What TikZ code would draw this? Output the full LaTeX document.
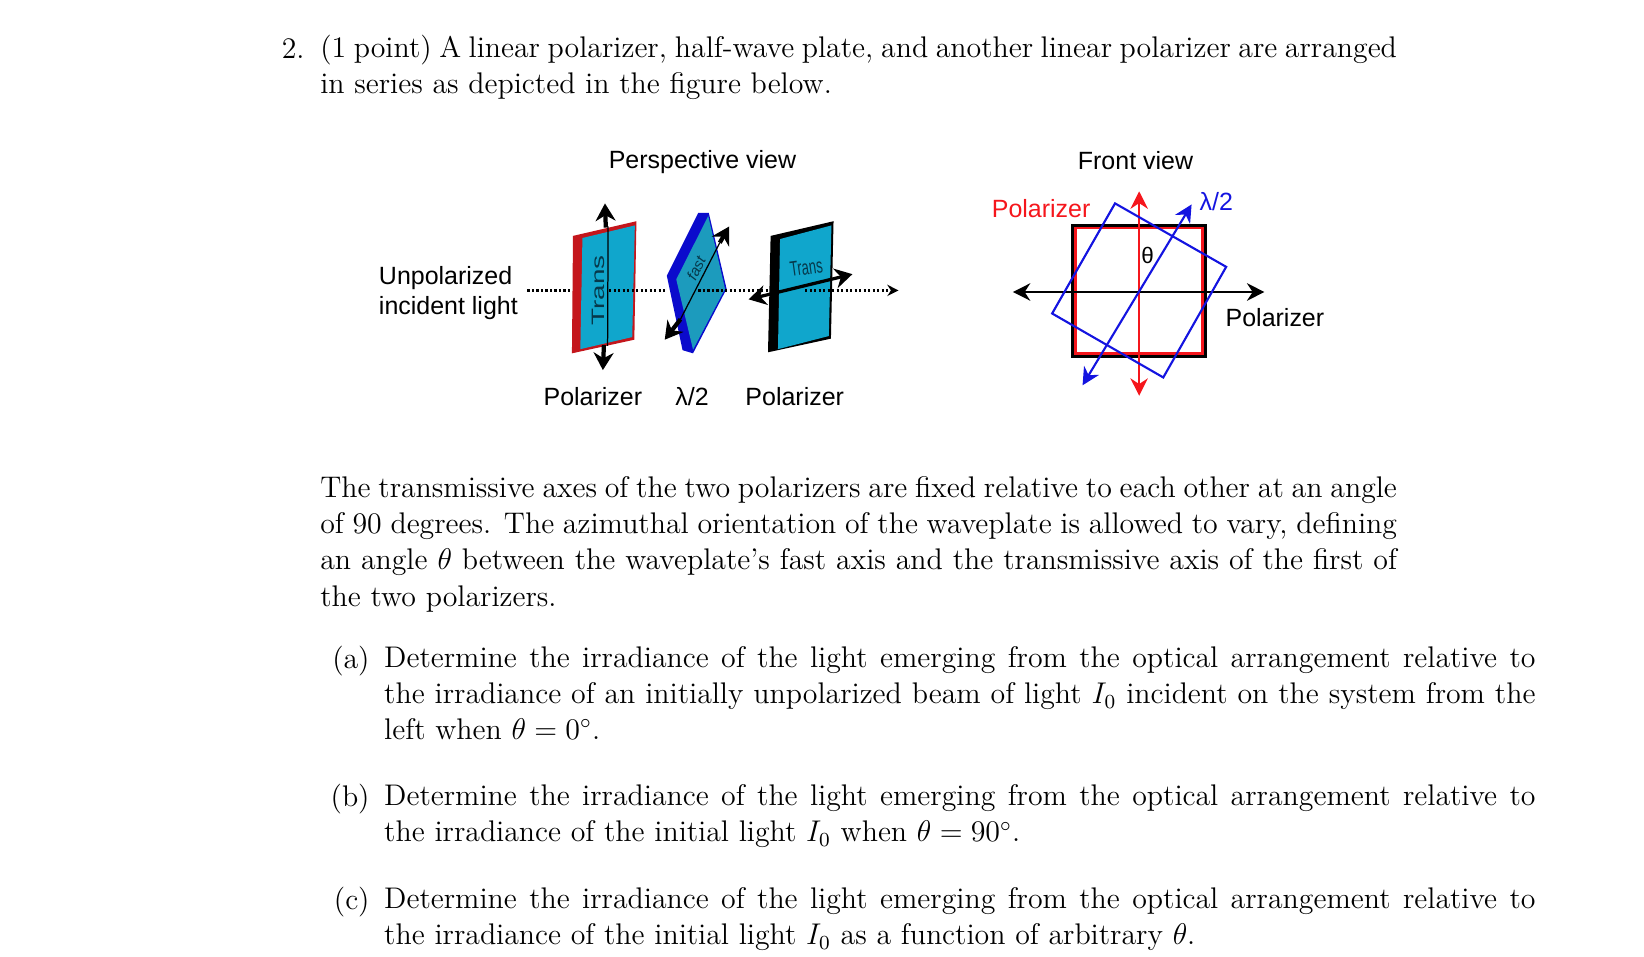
\documentclass[tikz,border=0pt]{standalone}
\usepackage{fontspec}
\usetikzlibrary{arrows.meta}
\newfontfamily\arialfont{Liberation Sans}
\definecolor{plateteal}{HTML}{10A6CC}
\definecolor{fastteal}{HTML}{1C9BBD}
\definecolor{inkteal}{HTML}{06384A}
\definecolor{rimred}{HTML}{C4161C}
\definecolor{rimblue}{HTML}{0B0BCC}
\definecolor{viewred}{HTML}{F5161C}
\definecolor{viewblue}{HTML}{1414E0}
\tikzset{
  para/.style={anchor=north west,inner sep=0pt,align=justify,font=\fontsize{11.95}{14.5}\selectfont},
  tag/.style={anchor=north east,inner sep=0pt,font=\fontsize{11.95}{14.5}\selectfont},
  sanslabel/.style={inner sep=0pt,font=\arialfont\fontsize{10}{12.2}\selectfont},
  beam/.style={line width=0.9pt,dash pattern=on 0.9pt off 0.9pt},
  bigarrow/.style={line width=1.7pt,-{Stealth[length=7pt,width=8pt]}},
  viewarrow/.style={line width=0.8pt,{Stealth[length=7pt,width=7pt]}-{Stealth[length=7pt,width=7pt]}}
}
\begin{document}
\begin{tikzpicture}[x=0.42pt,y=-0.42pt]
\useasboundingbox (0,0) rectangle (1568,912.75);
% question text
\node[tag] (num) at (291,36) {2.};
\node[para,text width=431.3pt] (intro) at (305,33) {(1 point) A linear polarizer, half-wave plate, and another linear polarizer are arranged in series as depicted in the figure below.};
\node[para,text width=431.3pt] (body) at (305,454) {The transmissive axes of the two polarizers are fixed relative to each other at an angle of 90 degrees.  The azimuthal orientation of the waveplate is allowed to vary, defining an angle $\theta$ between the waveplate’s fast axis and the transmissive axis of the first of the two polarizers.};
\node[tag] (taga) at (353,616) {(a)};
\node[para,text width=461.2pt] (parta) at (366,616) {Determine the irradiance of the light emerging from the optical arrangement relative to\linebreak the irradiance of an initially unpolarized beam of light $I_0$ incident on the system from the\linebreak left when $\theta=0^\circ$.};
\node[tag] (tagb) at (353,747) {(b)};
\node[para,text width=461.2pt] (partb) at (366,748) {Determine the irradiance of the light emerging from the optical arrangement relative to\linebreak the irradiance of the initial light $I_0$ when $\theta=90^\circ$.};
\node[tag] (tagc) at (353,846) {(c)};
\node[para,text width=461.2pt] (partc) at (366,846) {Determine the irradiance of the light emerging from the optical arrangement relative to\linebreak the irradiance of the initial light $I_0$ as a function of arbitrary $\theta$.};
% perspective view
\node[sanslabel] (perspective) at (670,155) {Perspective view};
\node[sanslabel,anchor=west,align=left] (unpolarized) at (361,279.5) {Unpolarized\\incident light};
\node[sanslabel] (polone) at (565.5,378) {Polarizer};
\node[sanslabel] (halfwave) at (660,378) {λ/2};
\node[sanslabel] (poltwo) at (758,378) {Polarizer};
% first polarizer
\fill[rimred] (546.5,225) -- (607,211) -- (605,324) -- (545.5,337) -- cycle;
\fill[plateteal] (555.5,227) -- (605.5,215) -- (603,321.5) -- (553.5,333) -- cycle;
\node[rotate=90,inner sep=0pt,text=inkteal,font=\arialfont\fontsize{7.2}{9}\selectfont] (transone) at (571,277) {\scalebox{1.55}[1]{Trans}};
\draw[line width=0.5pt] (580,216) -- (579.5,330);
\draw[bigarrow] (577.8,217) -- (577,194);
\draw[bigarrow] (576,329) -- (575,353);
% half-wave plate
\fill[rimblue] (666,203) -- (636,263) -- (651,334) -- (661,337) -- (693,275.5) -- (676,203) -- cycle;
\fill[fastteal] (675.5,206) -- (691.5,275.5) -- (661,333.5) -- (645,266.5) -- cycle;
\node[rotate=64,inner sep=0pt,text=inkteal,font=\arialfont\itshape\fontsize{6}{8}\selectfont] (fastlabel) at (664,256) {fast};
\draw[line width=0.5pt] (686.5,231.5) -- (649,304.5);
\draw[bigarrow] (686.5,231.5) -- (695.5,216);
\draw[bigarrow] (649,304.5) -- (634,324);
% second polarizer
\fill[black] (735,225) -- (795,211) -- (792.5,323) -- (732.5,336) -- cycle;
\fill[plateteal] (744,228) -- (793,215) -- (790.5,320.5) -- (742,333) -- cycle;
\node[rotate=8,inner sep=0pt,text=inkteal,font=\arialfont\fontsize{8.4}{10}\selectfont] (transtwo) at (769,255) {\scalebox{0.62}[1]{Trans}};
\draw[line width=1.3pt,{Stealth[length=7pt,width=8pt]}-{Stealth[length=7pt,width=8pt]}] (714,285.5) -- (813,261.5);
% dotted beam
\draw[beam] (503,277) -- (545,277);
\draw[beam] (581,277) -- (636,277);
\draw[beam] (666,277) -- (733,277);
\draw[beam,-{Stealth[length=4.5pt,width=4.5pt]}] (768,277) -- (857,277);
% front view
\node[sanslabel] (front) at (1083,153) {Front view};
\node[sanslabel,text=viewred] (polred) at (993,199) {Polarizer};
\node[sanslabel,text=viewblue] (halfblue) at (1160,192) {λ/2};
\node[sanslabel] (polblack) at (1216,303) {Polarizer};
\draw[line width=1.1pt] (1023,215) rectangle (1149.5,340);
\draw[viewred,line width=1.1pt] (1025.5,217.5) rectangle (1147,337.5);
\draw[viewarrow] (966,278.5) -- (1206,278.5);
\draw[viewarrow,viewred,line width=0.65pt] (1086.5,182.5) -- (1086.5,377.5);
\draw[viewblue,line width=0.85pt] (1063.5,194) -- (1169.5,254.5) -- (1109.5,360) -- (1003.5,299) -- cycle;
\draw[viewarrow,viewblue,line width=0.85pt] (1136.5,195) -- (1032.5,367.5);
\node[inner sep=0pt,font=\arialfont\fontsize{9}{10}\selectfont] (thetalabel) at (1094.5,244) {θ};
\end{tikzpicture}
\end{document}
